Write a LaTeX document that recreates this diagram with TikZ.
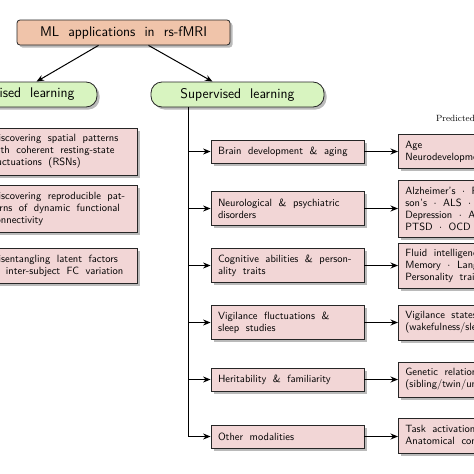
\documentclass[tikz,border=0pt]{standalone}
\usepackage{amsmath,amssymb}
\usepackage{xcolor}
\usepackage{tikz}
\usetikzlibrary{shapes.geometric}
\usetikzlibrary{arrows.meta}
\usetikzlibrary{positioning}
\usetikzlibrary{shadows}
\definecolor{rootfill}{RGB}{240,196,170}
\definecolor{learnfill}{RGB}{216,244,192}
\definecolor{taskfill}{RGB}{242,214,214}
\newcommand{\boxfont}{\sffamily\fontsize{10.5}{12}\selectfont}
\newcommand{\headfont}{\sffamily\fontsize{14}{17}\selectfont\spaceskip=.65em plus .1em\relax}

\begin{document}
\begin{tikzpicture}[x=1pt,y=1pt,
  shade/.style={drop shadow={shadow xshift=2.5pt,shadow yshift=-2.5pt,fill=black!60,opacity=.45}},
  rootbox/.style={rectangle,rounded corners=3pt,draw=black!85,line width=.8pt,fill=rootfill,shade,
    minimum width=213pt,minimum height=25pt,inner sep=0pt,font=\headfont},
  learnbox/.style={rectangle,rounded corners=11pt,draw=black!85,line width=.8pt,fill=learnfill,shade,
    minimum width=173pt,minimum height=25pt,inner sep=0pt,font=\headfont},
  taskbox/.style={rectangle,draw=black!85,line width=.8pt,fill=taskfill,shade,
    inner xsep=7pt,inner ysep=1pt,align=left,font=\boxfont,
    execute at begin node={\spaceskip=.62em plus .1em\relax}},
  catbox/.style={taskbox,text width=139pt,minimum height=23pt},
  sidebox/.style={taskbox,text width=139pt},
  outbox/.style={taskbox,text width=150pt,anchor=west},
  arr/.style={-{Stealth[length=7.5pt,width=6pt]},line width=1pt}]
\useasboundingbox (0,0) rectangle (474,-474);
\clip (0,0) rectangle (474,-474);

\node[rootbox] (root) at (123.5,-32.5) {ML applications in rs-fMRI};
\node[learnbox] (unsup) at (10.5,-94.5) {Unsupervised learning};
\node[learnbox] (sup) at (237.5,-94.5) {Supervised learning};

\node[sidebox,minimum height=47pt] (rsn) at (60.5,-151.5)
  {Discovering spatial patterns\\with coherent resting-state\\fluctuations (RSNs)};
\node[sidebox,minimum height=47pt] (dfc) at (60.5,-208.5)
  {Discovering reproducible pat-\\terns of dynamic functional\\connectivity};
\node[sidebox,minimum height=35pt] (latent) at (60.5,-265.5)
  {Disentangling latent factors\\of inter-subject FC variation};

\node[catbox] (brain) at (287.5,-151.5) {Brain development \& aging};
\node[catbox,minimum height=34pt] (neuro) at (287.5,-208.5) {Neurological \& psychiatric\\disorders};
\node[catbox,minimum height=34pt] (cogn) at (287.5,-265.5) {Cognitive abilities \& person-\\ality traits};
\node[catbox,minimum height=34pt] (vigil) at (287.5,-322.5) {Vigilance fluctuations \&\\sleep studies};
\node[catbox] (herit) at (287.5,-379.5) {Heritability \& familiarity};
\node[catbox] (other) at (287.5,-436.5) {Other modalities};

\node[outbox,minimum height=34pt] (age) at (398,-151.5) {Age\\Neurodevelopment};
\node[outbox,minimum height=57pt] (disease) at (398,-208.5)
  {Alzheimer's $\cdot$ Parkin-\\son's $\cdot$ ALS $\cdot$ MS\\Depression $\cdot$ ADHD\\PTSD $\cdot$ OCD};
\node[outbox,minimum height=45pt] (cognout) at (398,-265.5) {Fluid intelligence\\Memory $\cdot$ Language\\Personality traits};
\node[outbox,minimum height=35pt] (vigout) at (398,-322.5) {Vigilance states\\(wakefulness/sleep)};
\node[outbox,minimum height=35pt] (genetic) at (398,-379.5) {Genetic relationship\\(sibling/twin/unrelated)};
\node[outbox,minimum height=35pt] (modal) at (398,-435.5) {Task activation\\Anatomical connectivity};

\node[anchor=west,font=\rmfamily\small,inner sep=0pt] (pred) at (436,-118) {Predicted};

\draw[arr] ([xshift=-25pt]root.south) -- ([xshift=26pt]unsup.north);
\draw[arr] ([xshift=25pt]root.south) -- ([xshift=-25pt]sup.north);

\coordinate (trunk) at ([xshift=-49.5pt]sup.south);
\draw[arr] (trunk) |- (other.west);
\foreach \n in {brain,neuro,cogn,vigil,herit}
  \draw[arr] (trunk |- \n.west) -- (\n.west);
\foreach \a/\b in {brain/age,neuro/disease,cogn/cognout,vigil/vigout,herit/genetic,other/modal}
  \draw[arr] (\a.east) -- (\a.east -| \b.west);
\end{tikzpicture}
\end{document}
